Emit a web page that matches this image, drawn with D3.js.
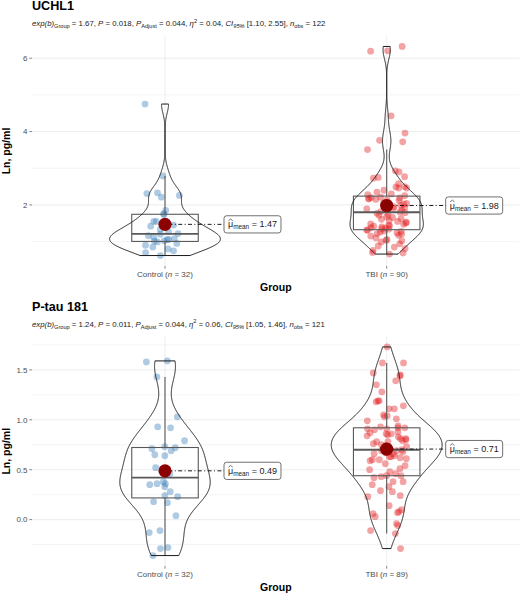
<!DOCTYPE html>
<html>
<head>
<meta charset="utf-8">
<script src="https://cdn.jsdelivr.net/npm/d3@7"></script>
<style>
body { margin: 0; background: #fff; }
svg { font-family: "Liberation Sans", Arial, sans-serif; }
</style>
</head>
<body>
<svg width="520" height="594"></svg>
<script>
// data
var groups = ["Control", "TBI"];

var uchl1Control = [4.75, 2.79, 2.33, 2.31, 2.26, 2.21, 1.85, 1.76, 1.74, 1.55, 1.55, 1.45, 1.42, 1.33, 1.27, 1.22,
  1.20, 1.16, 1.12, 1.08, 1.06, 1.05, 1.02, 1.01, 0.99, 0.95, 0.90, 0.85, 0.80, 0.75, 0.70, 0.62];
var uchl1Tbi = [6.32, 6.20, 6.19, 4.43, 3.96, 3.76, 3.72, 3.51, 2.93, 2.90, 2.77, 2.75, 2.73, 2.58, 2.50, 2.49,
  2.46, 2.46, 2.40, 2.35, 2.30, 2.28, 2.25,
  1.81, 1.82, 1.86, 1.89, 1.91, 1.93, 1.94, 1.95, 1.97, 1.99, 2.01, 2.02, 2.04, 2.06, 2.12, 2.13, 2.15, 2.16,
  2.18, 2.19, 2.20, 2.21,
  1.34, 1.35, 1.37, 1.38, 1.40, 1.42, 1.43, 1.45, 1.47, 1.48, 1.51, 1.53, 1.55, 1.58, 1.61, 1.63, 1.66, 1.68,
  1.72, 1.74, 1.77, 1.79,
  0.66, 0.69, 0.70, 0.76, 0.81, 0.85, 0.88, 0.94, 0.99, 1.02, 1.04, 1.05, 1.10, 1.15, 1.17, 1.20, 1.22, 1.24,
  1.26, 1.28, 1.29, 1.31, 1.32];

var ptauControl = [1.58, 1.59, 1.43, 1.03, 0.93, 0.92, 0.79, 0.73, 0.72, 0.71, 0.69, 0.64, 0.65, 0.52, 0.50, 0.46,
  0.38, 0.36, 0.33, 0.36, 0.35, 0.28, 0.23, 0.24, 0.17, 0.18, 0.04, -0.11, -0.13, -0.28, -0.29, -0.36];
var ptauTbi = [1.73, 1.57, 1.57, 1.47, 1.45, 1.44, 1.39, 1.35, 1.19, 1.18, 1.19, 1.14, 1.11, 1.11, 1.05, 1.04,
  1.03, 1.01, 0.99, 0.94, 0.92, 0.91, 0.88, 0.86, 0.86, 0.84, 0.81, 0.81, 0.79, 0.78, 0.76, 0.75, 0.74, 0.73,
  0.69, 0.68, 0.66, 0.63, 0.63, 0.61, 0.60, 0.59, 0.56, 0.54, 0.51, 0.50, 0.48, 0.46, 0.44, 0.44, 0.43, 0.42,
  0.38, 0.38, 0.35, 0.33, 0.29, 0.28, 0.24, 0.23, 0.14, 0.10, 0.08, 0.07, 0.06, 0.03, -0.04, -0.06, -0.11,
  -0.14, -0.29,
  1.28, 0.93, 0.91, 0.90, 0.87, 0.85, 0.83, 0.80, 0.78, 0.92, 0.70, 0.69, 0.68, 0.67, 0.66, 0.64, 0.62, 0.60];

var uchl1Ticks = [2, 4, 6];
var ptauTicks = [0, 0.5, 1, 1.5];

// exp(b), P, P adjusted, eta^2, CI 95%
var uchl1Stats = ["1.67", "0.018", "0.044", "0.04", "[1.10, 2.55]"];
var ptauStats = ["1.24", "0.011", "0.044", "0.06", "[1.05, 1.46]"];

var colors = ["#377EB8", "#E41A1C"];

var panels = [
  {title: "UCHL1", stats: uchl1Stats, data: [uchl1Control, uchl1Tbi], ticks: uchl1Ticks, fmt: d3.format("d"), top: 36, bottom: 266, dy: 0},
  {title: "P-tau 181", stats: ptauStats, data: [ptauControl, ptauTbi], ticks: ptauTicks, fmt: d3.format(".1f"), top: 336.5, bottom: 566, dy: 300.5}
];

var svg = d3.select("svg");
var left = 32, right = 519.7;

var x = d3.scalePoint().domain(groups).range([left, right]).padding(0.6);
var step = x.step();

var seed = 11;
function rand() {
  seed = (seed * 16807) % 2147483647;
  return seed / 2147483647;
}

function bwNrd0(v) {
  var s = v.slice().sort(d3.ascending);
  var iqr = d3.quantileSorted(s, 0.75) - d3.quantileSorted(s, 0.25);
  var lo = Math.min(d3.deviation(v), iqr / 1.34);
  return 0.9 * lo * Math.pow(v.length, -0.2);
}

function density(v) {
  var bw = bwNrd0(v);
  var lo = d3.min(v), hi = d3.max(v);
  var out = [];
  for (var i = 0; i < 512; i++) {
    var y = lo + (hi - lo) * i / 511;
    var d = d3.mean(v, function(t) {
      var u = (y - t) / bw;
      return Math.exp(-0.5 * u * u);
    }) / (bw * Math.sqrt(2 * Math.PI));
    out.push([y, d]);
  }
  return out;
}

function richText(sel, segs, size) {
  var cur = 0;
  segs.forEach(function(g) {
    var kind = g[1];
    var small = kind.indexOf("sub") >= 0 || kind == "sup";
    var shift = kind.indexOf("sub") >= 0 ? size * 0.3 : (kind == "sup" ? -size * 0.4 : 0);
    var ts = sel.append("tspan").text(g[0]).attr("dy", shift - cur);
    cur = shift;
    if (small) ts.attr("font-size", size * 0.72);
    if (kind == "i" || kind == "subi") ts.attr("font-style", "italic");
  });
}

var subSize = 7.8;

panels.forEach(function(p) {
  var g = svg.append("g");
  var all = p.data[0].concat(p.data[1]);
  var lo = d3.min(all), hi = d3.max(all);
  var pad = (hi - lo) * 0.05;
  var y = d3.scaleLinear().domain([lo - pad, hi + pad]).range([p.bottom, p.top]);

  // grid
  var st = p.ticks[1] - p.ticks[0];
  var minor = [];
  for (var m = p.ticks[0] - st * 1.5; m <= hi + pad; m += st) {
    if (m >= lo - pad) minor.push(m);
  }
  g.selectAll(".minor").data(minor).enter().append("line")
    .attr("x1", left).attr("x2", right)
    .attr("y1", function(d) { return y(d); }).attr("y2", function(d) { return y(d); })
    .attr("stroke", "#ededed").attr("stroke-width", 0.6);
  g.selectAll(".major").data(p.ticks).enter().append("line")
    .attr("x1", left).attr("x2", right)
    .attr("y1", function(d) { return y(d); }).attr("y2", function(d) { return y(d); })
    .attr("stroke", "#e8e8e8").attr("stroke-width", 0.8);
  g.selectAll(".vgrid").data(groups).enter().append("line")
    .attr("x1", function(d) { return x(d); }).attr("x2", function(d) { return x(d); })
    .attr("y1", p.top).attr("y2", p.bottom)
    .attr("stroke", "#e8e8e8").attr("stroke-width", 0.8);

  // y axis ticks
  p.ticks.forEach(function(t) {
    g.append("line").attr("x1", left - 2.7).attr("x2", left)
      .attr("y1", y(t)).attr("y2", y(t)).attr("stroke", "#333").attr("stroke-width", 0.6);
    g.append("text").attr("x", left - 4.5).attr("y", y(t) + 2.8)
      .attr("text-anchor", "end").attr("font-size", 8).attr("fill", "#4d4d4d")
      .text(p.fmt(t));
  });

  // densities for violins, area-scaled
  var dens = p.data.map(density);
  var maxD = d3.max(dens, function(d) { return d3.max(d, function(e) { return e[1]; }); });

  p.data.forEach(function(v, i) {
    var cx = x(groups[i]);
    // jittered points
    g.selectAll(".pt" + i).data(v).enter().append("circle")
      .attr("cx", function() { return cx + (rand() * 2 - 1) * 0.09 * step; })
      .attr("cy", function(d) { return y(d); })
      .attr("r", 3.4)
      .attr("fill", colors[i]).attr("fill-opacity", 0.4);
  });

  p.data.forEach(function(v, i) {
    var cx = x(groups[i]);
    var s = v.slice().sort(d3.ascending);
    var q1 = d3.quantileSorted(s, 0.25), med = d3.quantileSorted(s, 0.5), q3 = d3.quantileSorted(s, 0.75);
    var iqr = q3 - q1;
    var wLo = d3.min(s.filter(function(d) { return d >= q1 - 1.5 * iqr; }));
    var wHi = d3.max(s.filter(function(d) { return d <= q3 + 1.5 * iqr; }));
    var bw = 0.15 * step;

    // box
    g.append("line").attr("x1", cx).attr("x2", cx).attr("y1", y(q3)).attr("y2", y(wHi))
      .attr("stroke", "#595959").attr("stroke-width", 1.1);
    g.append("line").attr("x1", cx).attr("x2", cx).attr("y1", y(q1)).attr("y2", y(wLo))
      .attr("stroke", "#595959").attr("stroke-width", 1.1);
    g.append("rect").attr("x", cx - bw).attr("width", 2 * bw)
      .attr("y", y(q3)).attr("height", y(q1) - y(q3))
      .attr("fill", "none").attr("stroke", "#595959").attr("stroke-width", 1.1);
    g.append("line").attr("x1", cx - bw).attr("x2", cx + bw).attr("y1", y(med)).attr("y2", y(med))
      .attr("stroke", "#595959").attr("stroke-width", 1.8);

    // violin
    var area = d3.area()
      .y(function(d) { return y(d[0]); })
      .x0(function(d) { return cx - 0.25 * step * d[1] / maxD; })
      .x1(function(d) { return cx + 0.25 * step * d[1] / maxD; });
    g.append("path").datum(dens[i]).attr("d", area)
      .attr("fill", "none").attr("stroke", "#1a1a1a").attr("stroke-width", 1);

    // mean and its label
    var mean = d3.mean(v);
    var my = y(mean);
    var lx = cx + 59;
    g.append("line").attr("x1", cx).attr("x2", lx).attr("y1", my).attr("y2", my)
      .attr("stroke", "#000").attr("stroke-width", 0.9).attr("stroke-dasharray", "1,2.4,4,2.4");
    g.append("circle").attr("cx", cx).attr("cy", my).attr("r", 6.6).attr("fill", "#8B0000");

    var lg = g.append("g");
    var rect = lg.append("rect");
    var txt = lg.append("text").attr("x", lx + 4).attr("y", my + 3).attr("font-size", 9).attr("fill", "#1a1a1a");
    txt.append("tspan").text("μ");
    txt.append("tspan").text("mean").attr("font-size", 6.4).attr("dy", 2);
    txt.append("tspan").text(" = " + d3.format(".2f")(mean)).attr("dy", -2);
    var tw = txt.node().getComputedTextLength();
    var mu = txt.node().getExtentOfChar(0);
    lg.append("path")
      .attr("d", "M" + (mu.x + 0.4) + "," + (my - 3.6) + "L" + (mu.x + mu.width / 2) + "," + (my - 5.4) +
        "L" + (mu.x + mu.width - 0.4) + "," + (my - 3.6))
      .attr("fill", "none").attr("stroke", "#1a1a1a").attr("stroke-width", 0.6);
    rect.attr("x", lx).attr("y", my - 8.6).attr("width", tw + 8).attr("height", 17.2)
      .attr("rx", 2.6).attr("fill", "#fff").attr("stroke", "#333").attr("stroke-width", 0.7);

    // x tick and label
    g.append("line").attr("x1", cx).attr("x2", cx).attr("y1", p.bottom).attr("y2", p.bottom + 2.7)
      .attr("stroke", "#333").attr("stroke-width", 0.6);
    var xl = g.append("text").attr("x", cx).attr("y", p.bottom + 10.5)
      .attr("text-anchor", "middle").attr("font-size", 8).attr("fill", "#4d4d4d");
    xl.append("tspan").text(groups[i] + " (");
    xl.append("tspan").text("n").attr("font-style", "italic");
    xl.append("tspan").text(" = " + v.length + ")");
  });

  // titles
  g.append("text").attr("x", left).attr("y", 10 + p.dy)
    .attr("font-size", 12.6).attr("font-weight", "bold").text(p.title);

  var s = p.stats;
  var segs = [["exp(b)", "i"], ["Group", "sub"], [" = " + s[0] + ", ", ""], ["P", "i"], [" = " + s[1] + ", ", ""],
    ["P", "i"], ["Adjust", "sub"], [" = " + s[2] + ", ", ""], ["η", "i"], ["2", "sup"], [" = " + s[3] + ", ", ""],
    ["CI", "i"], ["95%", "subi"], [" " + s[4] + ", ", ""], ["n", "i"], ["obs", "sub"], [" = " + all.length, ""]];
  var sub = g.append("text").attr("x", left).attr("y", 26 + p.dy).attr("font-size", subSize).attr("fill", "#1a1a1a");
  richText(sub, segs, subSize);

  g.append("text").attr("x", (left + right) / 2).attr("y", p.bottom + 24.5)
    .attr("text-anchor", "middle").attr("font-size", 10.5).attr("font-weight", "bold").text("Group");

  g.append("text").attr("transform", "translate(9.8," + (p.top + p.bottom) / 2 + ") rotate(-90)")
    .attr("text-anchor", "middle").attr("font-size", 10.5).attr("font-weight", "bold").text("Ln, pg/ml");
});
</script>
</body>
</html>
